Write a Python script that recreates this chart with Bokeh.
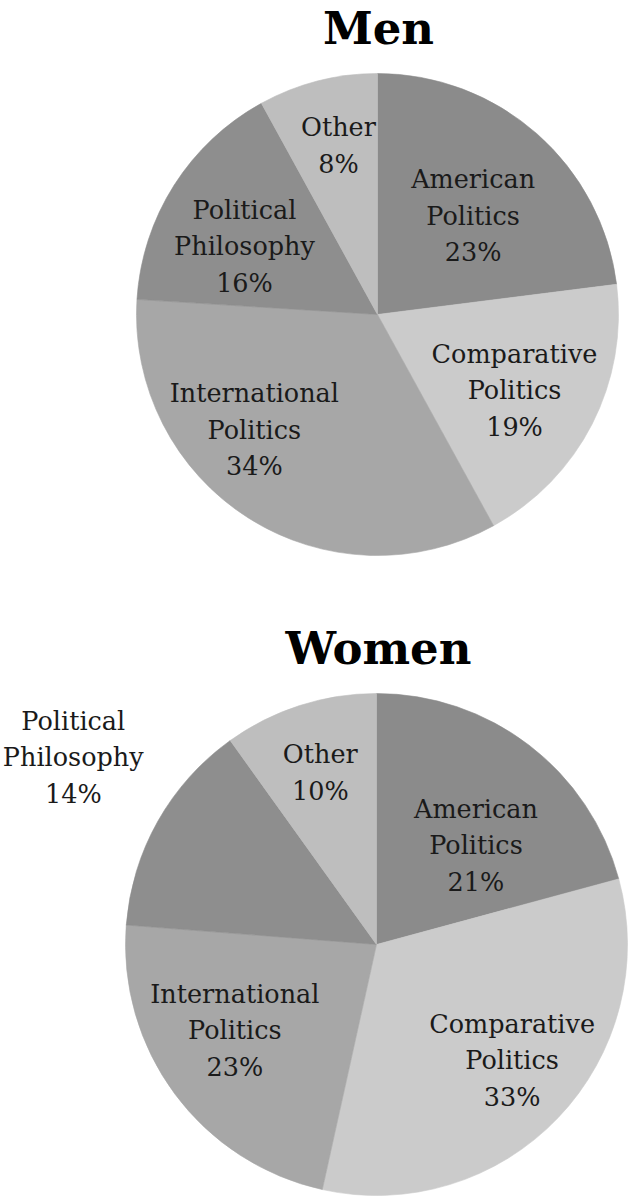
import math
from bokeh.plotting import figure
from bokeh.models import Range1d, ColumnDataSource
from bokeh.core.properties import value
from bokeh.embed import file_html
from bokeh.resources import INLINE

# ---- data ----
categories = ["American\nPolitics", "Comparative\nPolitics", "International\nPolitics",
              "Political\nPhilosophy", "Other"]
men_values = [23, 19, 34, 16, 8]
women_values = [21, 33, 23, 14, 10]
titles = ["Men", "Women"]
slice_colors = ["#8b8b8b", "#cbcbcb", "#a7a7a7", "#8e8e8e", "#bebebe"]

# ---- layout (pixels; y measured downward from top of page) ----
W, H = 631, 1200
FONT = "DejaVu Serif"
pies = [
    dict(cx=377, cy=314, r=241, title_y=28,
         shift=[2.7, 2.0, 14.5, -5.3, 1.4], frac=[0.57, 0.65, 0.70, 0.62, 0.72]),
    dict(cx=376, cy=944, r=251, title_y=648,
         shift=[7.6, -3.2, 5.3, 2.3, -0.3], frac=[0.56, 0.71, 0.66, 1.42, 0.72]),
]

p = figure(width=W, height=H, output_backend="svg", toolbar_location=None,
           x_range=Range1d(0, W), y_range=Range1d(-H, 0),
           min_border=0, match_aspect=False)
p.axis.visible = False
p.grid.visible = False
p.outline_line_color = None
p.background_fill_color = "white"
p.border_fill_color = "white"

for vals, title, lay in zip([men_values, women_values], titles, pies):
    total = float(sum(vals))
    cum = [0.0]
    for v in vals:
        cum.append(cum[-1] + v / total)
    starts = [math.pi / 2 - 2 * math.pi * c for c in cum[:-1]]
    ends = [math.pi / 2 - 2 * math.pi * c for c in cum[1:]]
    src = ColumnDataSource(dict(start=starts, end=ends, color=slice_colors,
                                x=[lay["cx"]] * len(vals), y=[-lay["cy"]] * len(vals)))
    p.wedge(x="x", y="y", radius=lay["r"], start_angle="start", end_angle="end",
            direction="clock", fill_color="color", line_color="color",
            line_width=0.6, source=src)

    # labels
    lx, ly, lt = [], [], []
    for i, v in enumerate(vals):
        mid = (cum[i] + cum[i + 1]) / 2 * 360.0 + lay["shift"][i]  # degrees clockwise from top
        a = math.radians(mid)
        d = lay["frac"][i] * lay["r"]
        lx.append(lay["cx"] + d * math.sin(a))
        ly.append(-(lay["cy"] - d * math.cos(a)))
        lt.append(f"{categories[i]}\n{v}%")
    p.text(x=lx, y=ly, text=lt, text_align="center", text_baseline="middle",
           text_font=value(FONT), text_font_size="25.5px", text_color="#1a1a1a",
           text_line_height=1.22)

    p.text(x=[378], y=[-lay["title_y"]], text=[title], text_align="center",
           text_baseline="middle", text_font=value(FONT), text_font_style="bold",
           text_font_size="45px", text_color="#000000")

open("out.html", "w").write(file_html(p, INLINE))
